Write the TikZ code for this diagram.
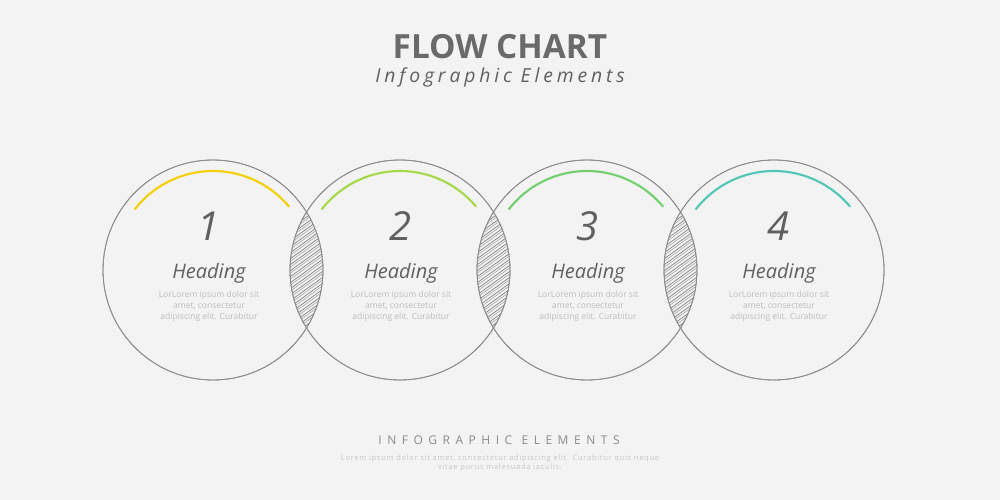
\documentclass[tikz,border=0pt]{standalone}
\usepackage{fontspec}
\setmainfont{Open Sans}
\usetikzlibrary{calc}
\definecolor{bg}{HTML}{F3F3F3}
\definecolor{ringc}{HTML}{8C8C8C}
\definecolor{titlec}{HTML}{6A6A6A}
\definecolor{handc}{HTML}{606060}
\definecolor{bodyc}{HTML}{BDBDBD}
\definecolor{subc}{HTML}{8A8A8A}
\definecolor{smallc}{HTML}{C6C6C6}
\definecolor{hatchc}{HTML}{7E7E7E}
\definecolor{hatchb}{HTML}{ABABAB}
\definecolor{cA}{HTML}{F4CF0A}
\definecolor{cB}{HTML}{A6D84A}
\definecolor{cC}{HTML}{72D06E}
\definecolor{cD}{HTML}{52C7B8}
\tikzset{
  ring/.style={circle, draw=ringc, line width=0.6pt, minimum size=165pt, inner sep=0pt},
  numtxt/.style={text=handc, font=\fontsize{30}{32}\selectfont\itshape, inner sep=0pt},
  headtxt/.style={text=handc, font=\fontsize{15}{17}\selectfont\itshape, inner sep=0pt},
  bodytxt/.style={text=bodyc, font=\fontsize{6.4}{8.2}\selectfont, align=center, inner sep=0pt},
  toparc/.style={line width=1.6pt, line cap=round},
  hatchline/.style={line width=0.5pt, line cap=round}
}
\begin{document}
\begin{tikzpicture}[x=0.75pt,y=-0.75pt]
\fill[bg] (0,0) rectangle (1000,500);
\useasboundingbox (0,0) rectangle (1000,500);

% title
\node[text=titlec, font=\fontsize{25}{27}\selectfont\bfseries, inner sep=0pt] (title) at (500,47) {FLOW CHART};
\node[text=handc, font=\fontsize{14.5}{16}\selectfont\itshape\addfontfeature{LetterSpace=20}, inner sep=0pt] (subtitle) at (500,77) {Infographic Elements};

% circles
\foreach \i/\x in {1/213,2/400,3/587,4/774}{
  \node[ring] (c\i) at (\x,270) {};
}

% hatched lenses
\foreach \a/\b/\m in {1/2/306.5,2/3/493.5,3/4/680.5}{
  \begin{scope}
    \clip (c\a.center) circle (82.5pt);
    \clip (c\b.center) circle (82.5pt);
    \foreach \k in {-84,-78,...,84}{
      \draw[hatchline, hatchc] (\m-25,270+\k+19) -- (\m+25,270+\k-17);
      \draw[hatchline, hatchb] (\m-25,270+\k+21.5) -- (\m+25,270+\k-14.5);
    }
  \end{scope}
}
% redraw circle outlines over hatching
\foreach \i in {1,2,3,4}{
  \draw[ringc, line width=0.6pt] (c\i.center) circle (82.5pt);
}

% colored arcs
\foreach \i/\c in {1/cA,2/cB,3/cC,4/cD}{
  \draw[toparc, \c] ([shift={(40:74.25pt)}]c\i.center) arc[start angle=40, end angle=142, radius=74.25pt];
}

% texts inside circles
\foreach \i/\x in {1/209,2/401,3/588,4/779}{
  \node[numtxt] (n\i) at (\x,226) {\i};
  \node[headtxt] (h\i) at (\x,273) {Heading};
  \node[bodytxt] (b\i) at (\x,306.5) {LorLorem ipsum dolor sit\\amet, consectetur\\adipiscing elit. Curabitur};
}

% bottom texts
\node[text=subc, font=\fontsize{9}{11}\selectfont\addfontfeature{LetterSpace=46}, inner sep=0pt] (foot) at (499,440) {INFOGRAPHIC\hspace{7pt}ELEMENTS};
\node[text=smallc, font=\fontsize{5.6}{6.8}\selectfont\addfontfeature{LetterSpace=10}, align=center, inner sep=0pt] (footbody) at (500,463) {Lorem ipsum dolor sit amet, consectetur adipiscing elit. Curabitur quis neque\\vitae purus malesuada iaculis.};
\end{tikzpicture}
\end{document}
